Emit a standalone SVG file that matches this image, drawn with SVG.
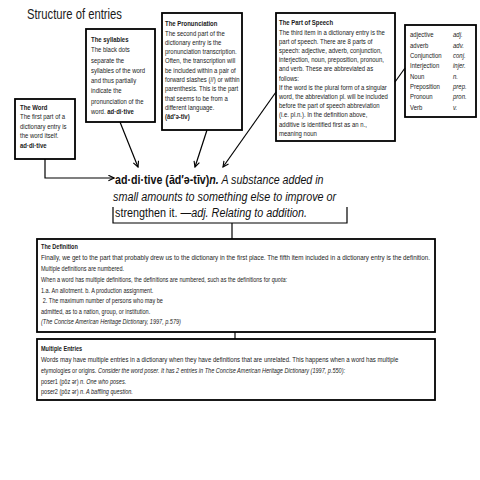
<svg xmlns="http://www.w3.org/2000/svg" width="480" height="480" viewBox="0 0 480 480">
<defs>
<style>
.box{fill:#fff;stroke:#000;stroke-width:1.8}
.t{font-family:"Liberation Sans",Arial,sans-serif;font-size:6.8px;fill:#1a1a1a}
.d{font-family:"Liberation Sans",Arial,sans-serif;font-size:6.3px;fill:#1a1a1a}
.e{font-family:"Liberation Sans",Arial,sans-serif;font-size:13.5px;fill:#111}
.b{font-weight:bold}
.i{font-style:italic}
.conn{fill:none;stroke:#000;stroke-width:1.2}
</style>
<marker id="ah" viewBox="0 0 10 10" refX="9" refY="5" markerWidth="7" markerHeight="7" orient="auto" markerUnits="userSpaceOnUse">
<path d="M1,1 L9,5 L1,9" fill="none" stroke="#000" stroke-width="1.6"/>
</marker>
</defs>
<rect width="480" height="480" fill="#fff"/>
<text x="27" y="18.5" font-family="Liberation Sans,Arial,sans-serif" font-size="15" fill="#1a1a1a" textLength="95" lengthAdjust="spacingAndGlyphs">Structure of entries</text>

<g id="word">
<rect class="box" x="15" y="99" width="60" height="60"/>
<g transform="translate(20,0) scale(0.88,1)" class="t">
<text y="110" class="b">The Word</text>
<text y="119.5">The first part of a</text>
<text y="129">dictionary entry is</text>
<text y="138.5">the word itself.</text>
<text y="148" class="b">ad·di·tive</text>
</g>
</g>

<g id="syllables">
<rect class="box" x="86" y="29" width="69" height="93"/>
<g transform="translate(91,0) scale(0.88,1)" class="t">
<text y="42" class="b">The syllables</text>
<text y="52.3">The black dots</text>
<text y="62.6">separate the</text>
<text y="72.9">syllables of the word</text>
<text y="83.2">and thus partially</text>
<text y="93.5">indicate the</text>
<text y="103.8">pronunciation of the</text>
<text y="114.1">word. <tspan class="b">ad·di·tive</tspan></text>
</g>
</g>

<g id="pronunciation">
<rect class="box" x="162" y="13" width="80" height="117"/>
<g transform="translate(165,0) scale(0.88,1)" class="t">
<text y="26.3" class="b">The Pronunciation</text>
<text y="35.6">The second part of the</text>
<text y="44.9">dictionary entry is the</text>
<text y="54.2">pronunciation transcription.</text>
<text y="63.5">Often, the transcription will</text>
<text y="72.8">be included within a pair of</text>
<text y="82.1">forward slashes (//) or within</text>
<text y="91.4">parenthesis. This is the part</text>
<text y="100.7">that seems to be from a</text>
<text y="110">different language.</text>
<text y="119.3" class="b">(ăd′ə-tĭv)</text>
</g>
</g>

<g id="part-of-speech">
<rect class="box" x="276" y="13" width="119" height="128"/>
<g transform="translate(279,0) scale(0.88,1)" class="t">
<text y="25.5" class="b">The Part of Speech</text>
<text y="34.7">The third item in a dictionary entry is the</text>
<text y="43.9">part of speech. There are 8 parts of</text>
<text y="53.1">speech: adjective, adverb, conjunction,</text>
<text y="62.3">interjection, noun, preposition, pronoun,</text>
<text y="71.5">and verb. These are abbreviated as</text>
<text y="80.7">follows:</text>
<text y="89.9">If the word is the plural form of a singular</text>
<text y="99.1">word, the abbreviation pl. will be included</text>
<text y="108.3">before the part of speech abbreviation</text>
<text y="117.5">(i.e. pl.n.). In the definition above,</text>
<text y="126.7">additive is identified first as an n.,</text>
<text y="135.9">meaning noun</text>
</g>
</g>

<g id="abbreviations">
<rect class="box" x="405" y="25" width="71" height="92"/>
<g transform="translate(410,0) scale(0.88,1)" class="t">
<text y="37.5">adjective</text>
<text y="47.8">adverb</text>
<text y="58.1">Conjunction</text>
<text y="68.4">Interjection</text>
<text y="78.7">Noun</text>
<text y="89">Preposition</text>
<text y="99.3">Pronoun</text>
<text y="109.6">Verb</text>
</g>
<g transform="translate(453,0) scale(0.88,1)" class="t i">
<text y="37.5">adj.</text>
<text y="47.8">adv.</text>
<text y="58.1">conj.</text>
<text y="68.4">injer.</text>
<text y="78.7">n.</text>
<text y="89">prep.</text>
<text y="99.3">pron.</text>
<text y="109.6">v.</text>
</g>
</g>

<g id="entry" class="e">
<text transform="translate(115,184) scale(0.79,1)"><tspan class="b">ad·di·tive (ăd′ə-tĭv)</tspan><tspan class="b i">n.</tspan><tspan class="i"> A substance added in</tspan></text>
<text transform="translate(113,201) scale(0.8,1)" class="i">small amounts to something else to improve or</text>
<text transform="translate(115,217) scale(0.8,1)">strengthen it. —<tspan class="i">adj. Relating to addition.</tspan></text>
</g>

<g id="definition">
<rect class="box" x="37" y="239" width="398" height="93"/>
<g transform="translate(41,0) scale(0.88,1)" class="d">
<text y="249.5" class="b">The Definition</text>
<text y="260" textLength="442" lengthAdjust="spacingAndGlyphs">Finally, we get to the part that probably drew us to the dictionary in the first place. The fifth item included in a dictionary entry is the definition.</text>
<text y="271.5">Multiple definitions are numbered.</text>
<text y="282.5">When a word has multiple definitions, the definitions are numbered, such as the definitions for <tspan class="i">quota:</tspan></text>
<text y="293">1.a. An allotment. b. A production assignment.</text>
<text x="2" y="303.5">2. The maximum number of persons who may be</text>
<text y="314">admitted, as to a nation, group, or institution.</text>
<text y="324.5" class="i">(The Concise American Heritage Dictionary, 1997, p.579)</text>
</g>
</g>

<g id="multiple-entries">
<rect class="box" x="37" y="339" width="398" height="61"/>
<g transform="translate(41,0) scale(0.88,1)" class="d">
<text y="351" class="b">Multiple Entries</text>
<text y="362" textLength="406" lengthAdjust="spacingAndGlyphs">Words may have multiple entries in a dictionary when they have definitions that are unrelated. This happens when a word has multiple</text>
<text y="373.5">etymologies or origins. <tspan class="i">Consider the word poser. It has 2 entries in The Concise American Heritage Dictionary (1997, p.550):</tspan></text>
<text y="384">poser1 (pōz ər) <tspan class="i">n. One who poses.</tspan></text>
<text y="394.5">poser2 (pōz ər) <tspan class="i">n. A baffling question.</tspan></text>
</g>
</g>

<g id="connectors" class="conn">
<path d="M45,159 V178 H114" marker-end="url(#ah)"/>
<path d="M120,122 L138,167" marker-end="url(#ah)"/>
<path d="M207,130 L195,167" marker-end="url(#ah)"/>
<path d="M276,92 L223,167" marker-end="url(#ah)"/>
<path d="M395,82 L405,68"/>
<path d="M113,207 V223 H347 V207"/>
<path d="M232,223 V239"/>
<path d="M235,332 V339"/>
</g>
</svg>
